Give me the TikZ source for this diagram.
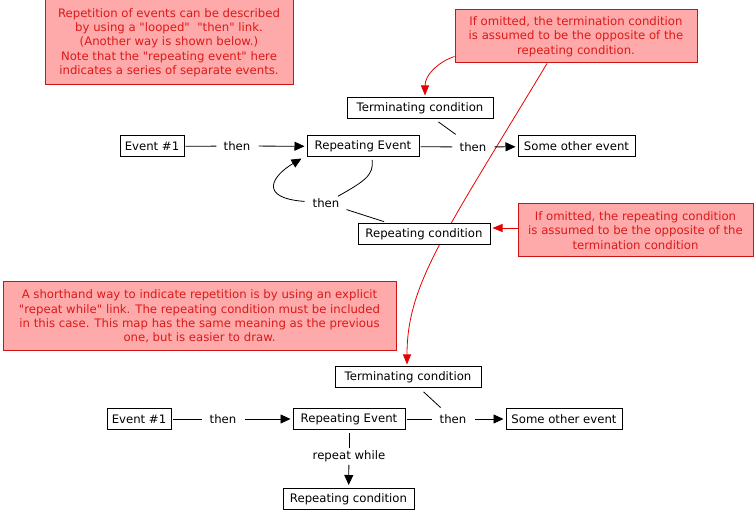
\documentclass[tikz,border=0pt]{standalone}
\usepackage{fontspec}
\setmainfont{DejaVu Sans}[Ligatures=TeXOff]
\usetikzlibrary{arrows.meta}
\definecolor{notefill}{RGB}{255,170,170}
\definecolor{notedraw}{RGB}{205,20,20}
\definecolor{notetext}{RGB}{220,25,25}
\definecolor{redline}{RGB}{230,0,0}
\begin{document}
\begin{tikzpicture}[x=1pt,y=-1pt,
  every node/.style={font=\fontsize{11.7}{14.3}\selectfont},
  box/.style={draw=black, fill=white, line width=1pt, minimum height=21pt, inner sep=0pt},
  lbl/.style={inner xsep=7pt, inner ysep=2pt},
  note/.style={draw=notedraw, fill=notefill, text=notetext, line width=1pt, align=center, inner sep=0pt},
  link/.style={line width=0.8pt, shorten <=1pt},
  arr/.style={link, shorten >=2pt, -{Triangle[length=10pt,width=9pt]}},
  redarr/.style={draw=redline, line width=0.8pt, -{Triangle[length=10pt,width=8pt]}}]
\path[use as bounding box] (0,0) rectangle (756,513);

% notes
\node[note, minimum width=248pt, minimum height=85pt] (n1) at (169,42.5)
  {Repetition of events can be described\\by using a "looped"\ \ "then" link.\\(Another way is shown below.)\\Note that the "repeating event" here\\indicates a series of separate events.};
\node[note, minimum width=242pt, minimum height=53pt] (n2) at (576,36.5)
  {If omitted, the termination condition\\is assumed to be the opposite of the\\repeating condition.};
\node[note, minimum width=235pt, minimum height=53pt] (n3) at (635.5,230.5)
  {If omitted, the repeating condition\\is assumed to be the opposite of the\\termination condition};
\node[note, minimum width=393pt, minimum height=69pt] (n4) at (199.5,316.5)
  {A shorthand way to indicate repetition is by using an explicit\\"repeat while" link. The repeating condition must be included\\in this case. This map has the same meaning as the previous\\one, but is easier to draw.};

% boxes needed by red connectors
\node[box, minimum width=146pt] (tc1) at (420,108.5) {Terminating condition};
\node[box, minimum width=146pt] (tc2) at (408,377.5) {Terminating condition};

% red connectors
\draw[redarr] ([yshift=-20pt]n2.west) .. controls (438,62) and (425,75) .. ([xshift=5pt,yshift=2pt]tc1.north);
\draw[redarr] ([xshift=-29pt]n2.south) .. controls (445,233) and (407,284) .. ([xshift=-1pt,yshift=2pt]tc2.north);

% top map
\node[box, minimum width=64pt] (ev1) at (152,146.5) {Event \#1};
\node[lbl] (t1a) at (237,146) {then};
\node[box, minimum width=112pt] (re1) at (363,146.5) {Repeating Event};
\node[lbl] (t1b) at (473,147) {then};
\node[box, minimum width=117pt] (so1) at (576.5,146.5) {Some other event};
\node[lbl] (t1c) at (326,203) {then};
\node[box, minimum width=132pt] (rc1) at (424,234.5) {Repeating condition};

\draw[redarr, shorten >=2pt] ([yshift=2.5pt]n3.west) -- ([yshift=6.5pt]rc1.east);

\draw[link] (ev1) -- (t1a);
\draw[arr] (t1a) -- (re1);
\draw[link] (re1) -- (t1b);
\draw[arr] (t1b) -- (so1);
\draw[link, shorten <=4pt, shorten >=10pt] (tc1) -- (t1b);
\draw[link, shorten <=6pt] (rc1) -- (t1c);
\draw[link] ([xshift=9pt,yshift=-1.5pt]re1.south) .. controls (374,175) and (365,181) .. (t1c);
\draw[arr, shorten >=0pt] (t1c) .. controls (258,198) and (272,176) .. ([xshift=-5pt,yshift=-1pt]re1.south west);

% bottom map
\node[box, minimum width=64pt] (ev2) at (139,419) {Event \#1};
\node[lbl] (t2a) at (223,419) {then};
\node[box, minimum width=112pt] (re2) at (349,419) {Repeating Event};
\node[lbl] (t2b) at (453,419) {then};
\node[box, minimum width=116pt] (so2) at (564,419) {Some other event};
\node[lbl] (rw) at (349,456) {repeat while};
\node[box, minimum width=131pt] (rc2) at (348.5,499) {Repeating condition};

\draw[link] (ev2) -- (t2a);
\draw[arr] (t2a) -- (re2);
\draw[link] (re2) -- (t2b);
\draw[arr] (t2b) -- (so2);
\draw[link, shorten <=5pt, shorten >=7pt] (tc2) -- (t2b);
\draw[link, shorten <=3pt] (re2) -- (rw);
\draw[arr, shorten >=3pt] (rw) -- (rc2);
\end{tikzpicture}
\end{document}
